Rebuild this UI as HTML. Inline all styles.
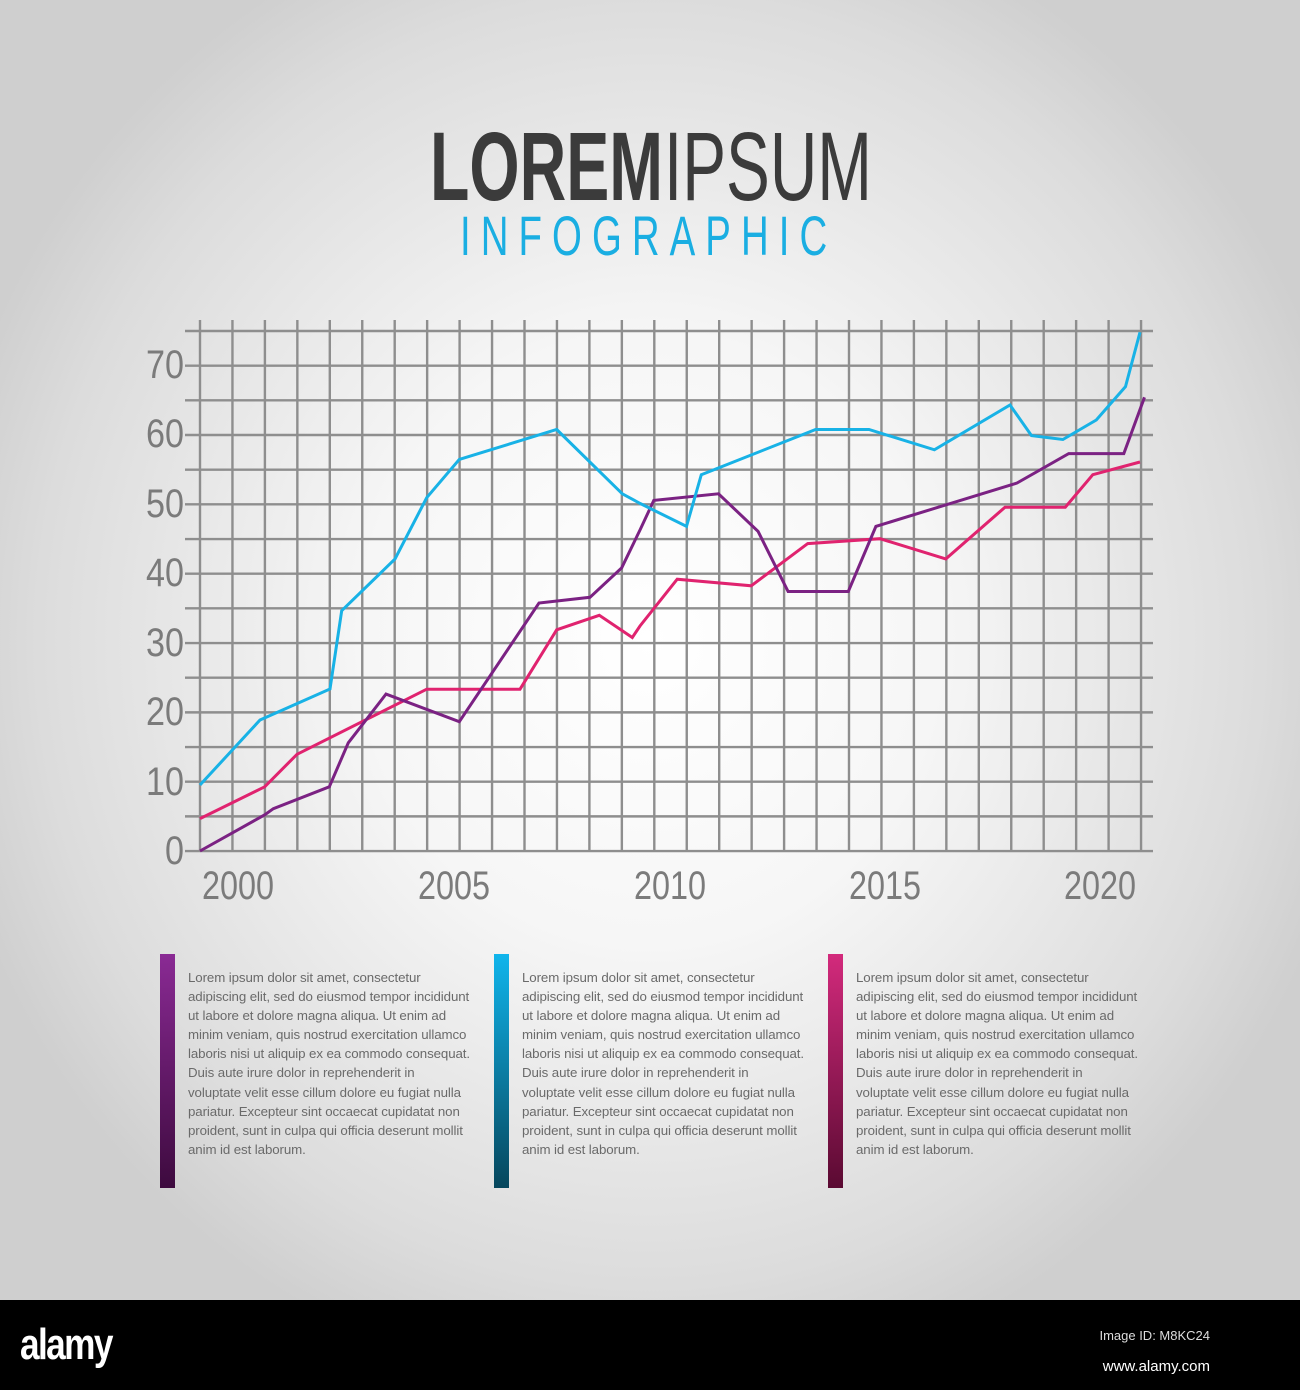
<!DOCTYPE html>
<html><head><meta charset="utf-8"><style>
html,body{margin:0;padding:0}
body{width:1300px;height:1390px;overflow:hidden;background:radial-gradient(ellipse 720px 760px at 650px 640px,#ffffff 0%,#f6f6f6 40%,#dcdcdc 85%,#cfcfcf 100%);position:relative;font-family:"Liberation Sans",sans-serif}
.foot{position:absolute;left:0;top:1300px;width:1300px;height:90px;background:#000}
.txt{position:absolute;top:968px;width:330px;font-size:13.3px;line-height:19.1px;color:#6a6a6a;letter-spacing:-0.1px;white-space:nowrap}
.bar{position:absolute;top:954px;width:15px;height:234px}
</style></head><body>
<svg width="1300" height="1300" style="position:absolute;left:0;top:0">
<text x="430" y="200" font-family="Liberation Sans" font-weight="bold" font-size="97" fill="#3b3b3b" textLength="233" lengthAdjust="spacingAndGlyphs">LOREM</text>
<text x="664" y="200" font-family="Liberation Sans" font-size="97" fill="#3b3b3b" textLength="208" lengthAdjust="spacingAndGlyphs">IPSUM</text>
<text transform="translate(460,255) scale(0.8,1.15)" font-family="Liberation Sans" font-size="48" fill="#1aaee2" textLength="459" lengthAdjust="spacing">INFOGRAPHIC</text>
<g id="grid" stroke="#8e8e8e" stroke-width="2.4"></g>
<g fill="#7b7b7b" font-family="Liberation Sans" font-size="40" text-anchor="end">
<text x="184" y="378" textLength="38" lengthAdjust="spacingAndGlyphs">70</text>
<text x="184" y="447" textLength="38" lengthAdjust="spacingAndGlyphs">60</text>
<text x="184" y="517" textLength="38" lengthAdjust="spacingAndGlyphs">50</text>
<text x="184" y="586" textLength="38" lengthAdjust="spacingAndGlyphs">40</text>
<text x="184" y="656" textLength="38" lengthAdjust="spacingAndGlyphs">30</text>
<text x="184" y="725" textLength="38" lengthAdjust="spacingAndGlyphs">20</text>
<text x="184" y="795" textLength="38" lengthAdjust="spacingAndGlyphs">10</text>
<text x="184" y="864" textLength="19" lengthAdjust="spacingAndGlyphs">0</text>
</g>
<g fill="#7b7b7b" font-family="Liberation Sans" font-size="40" text-anchor="middle">
<text x="238" y="899" textLength="72" lengthAdjust="spacingAndGlyphs">2000</text>
<text x="454" y="899" textLength="72" lengthAdjust="spacingAndGlyphs">2005</text>
<text x="670" y="899" textLength="72" lengthAdjust="spacingAndGlyphs">2010</text>
<text x="885" y="899" textLength="72" lengthAdjust="spacingAndGlyphs">2015</text>
<text x="1100" y="899" textLength="72" lengthAdjust="spacingAndGlyphs">2020</text>
</g>
<g fill="none" stroke-width="3" stroke-linejoin="miter">
<polyline stroke="#e0236f" points="200,818.6 264.7,786.8 297,754.3 426.7,689.2 520,689.2 556.7,629.8 599.3,615.3 632.3,637.5 640,626 677.2,579.2 751.2,585.8 807.7,543.6 880,538.7 945.8,558.9 1005,507.2 1065.3,507.2 1092.8,474.7 1140,462"/>
<polyline stroke="#7b2283" points="200,851 264.7,814.8 273.3,808.7 329.3,786.8 348.3,742.8 386,694.1 459.3,721.7 539,603 590,597.3 621.7,567.8 640,530 653.8,500.4 718.5,493.8 758.1,531.4 788.1,591.5 848.3,591.5 875.9,526.4 1017,483 1068.7,453.6 1123.8,453.6 1144.5,397.3"/>
<polyline stroke="#18b2e6" points="200,785 260,720 330,689 341.7,610.7 395,559 426.7,497.7 459.3,459.4 556.7,429.5 622.3,493.8 640,503.4 686.5,526.4 701.3,474.7 815.6,429.5 869,429.5 934.4,449.8 1010,405 1031.5,435.6 1062.9,439.5 1096.3,420 1125.5,386.6 1140,332.2"/>
</g>
</svg>
<div class="bar" style="left:160px;background:linear-gradient(#8a2a94,#3d0a3e)"></div>
<div class="bar" style="left:494px;background:linear-gradient(#10b5ec,#06465c)"></div>
<div class="bar" style="left:828px;background:linear-gradient(#d32a7c,#5a0a32)"></div>
<div class="txt" style="left:188px">Lorem ipsum dolor sit amet, consectetur<br>adipiscing elit, sed do eiusmod tempor incididunt<br>ut labore et dolore magna aliqua. Ut enim ad<br>minim veniam, quis nostrud exercitation ullamco<br>laboris nisi ut aliquip ex ea commodo consequat.<br>Duis aute irure dolor in reprehenderit in<br>voluptate velit esse cillum dolore eu fugiat nulla<br>pariatur. Excepteur sint occaecat cupidatat non<br>proident, sunt in culpa qui officia deserunt mollit<br>anim id est laborum.</div>
<div class="txt" style="left:522px">Lorem ipsum dolor sit amet, consectetur<br>adipiscing elit, sed do eiusmod tempor incididunt<br>ut labore et dolore magna aliqua. Ut enim ad<br>minim veniam, quis nostrud exercitation ullamco<br>laboris nisi ut aliquip ex ea commodo consequat.<br>Duis aute irure dolor in reprehenderit in<br>voluptate velit esse cillum dolore eu fugiat nulla<br>pariatur. Excepteur sint occaecat cupidatat non<br>proident, sunt in culpa qui officia deserunt mollit<br>anim id est laborum.</div>
<div class="txt" style="left:856px">Lorem ipsum dolor sit amet, consectetur<br>adipiscing elit, sed do eiusmod tempor incididunt<br>ut labore et dolore magna aliqua. Ut enim ad<br>minim veniam, quis nostrud exercitation ullamco<br>laboris nisi ut aliquip ex ea commodo consequat.<br>Duis aute irure dolor in reprehenderit in<br>voluptate velit esse cillum dolore eu fugiat nulla<br>pariatur. Excepteur sint occaecat cupidatat non<br>proident, sunt in culpa qui officia deserunt mollit<br>anim id est laborum.</div>
<div class="foot">
<div style="position:absolute;left:20px;top:20px;color:#fff;font-weight:bold;font-size:44px;letter-spacing:-2px;transform:scaleX(0.8);transform-origin:left">alamy</div>
<div style="position:absolute;right:90px;top:28px;color:#ddd;font-size:13px">Image ID: M8KC24</div>
<div style="position:absolute;right:90px;top:58px;color:#fff;font-size:15px">www.alamy.com</div>
</div>
<script>
var g=document.getElementById('grid'),s='';
for(var k=0;k<16;k++){var y=331+k*34.67;s+='<line x1="185" x2="1153" y1="'+y+'" y2="'+y+'"/>';}
for(var i=0;i<30;i++){var x=200+i*32.45;s+='<line x1="'+x+'" x2="'+x+'" y1="320" y2="851"/>';}
g.innerHTML=s;
</script>
</body></html>
